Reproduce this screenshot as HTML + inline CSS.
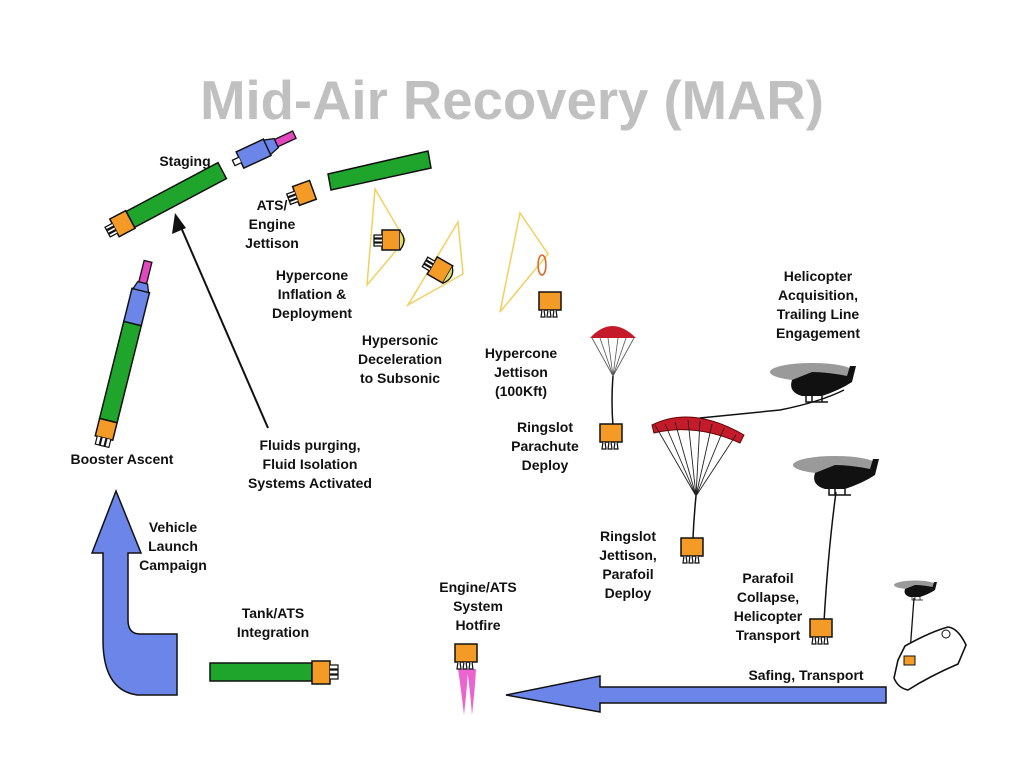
<!DOCTYPE html>
<html><head><meta charset="utf-8"><style>
html,body{margin:0;padding:0;background:#fff;}
svg{display:block;}
text{font-family:"Liberation Sans",Arial,sans-serif;font-weight:bold;font-size:14px;fill:#111;text-anchor:middle;}
</style></head><body>
<svg width="1024" height="768" viewBox="0 0 1024 768" xmlns="http://www.w3.org/2000/svg">
<defs>
<g id="eng">
<rect x="0" y="0" width="18" height="20" fill="#f49a26" stroke="#111" stroke-width="1.5"/>
<path d="M0 5 h-8 v3 h8 M0 9 h-8 v3 h8 M0 13 h-8 v3 h8" fill="#fff" stroke="#111" stroke-width="1.3"/>
</g>
<g id="engd">
<rect x="0" y="0" width="22" height="18" fill="#f49a26" stroke="#111" stroke-width="1.5"/>
<path d="M3 18 l-1 7 h4 l-1 -7 M9 18 l-1 7 h4 l-1 -7 M15 18 l-1 7 h4 l-1 -7" fill="#fff" stroke="#111" stroke-width="1.2"/>
</g>
<g id="heli">
<ellipse cx="0" cy="0" rx="42" ry="9" fill="#9a9a9a"/>
<path d="M-20 8 q-4 12 10 16 l20 0 q18 -6 30 -14 l4 -16 l-6 0 l-3 10 q-20 -4 -35 -4 z" fill="#111"/>
<path d="M-6 24 v6 h22 M0 24 v6 M10 24 v6" stroke="#111" stroke-width="1.5" fill="none"/>
</g>
</defs>

<text x="512" y="119" style="font-size:54.5px;fill:#c0c0c0">Mid-Air Recovery (MAR)</text>

<!-- staging booster -->
<g transform="translate(118,226) rotate(-28)">
<rect x="14" y="-9" width="104" height="18" fill="#1fa52c" stroke="#111" stroke-width="1.5"/>
<use href="#eng" x="-4" y="-10"/>
</g>
<!-- upper stage -->
<g transform="translate(240,160) rotate(-25)">
<rect x="0" y="-9" width="30" height="18" fill="#6b86e8" stroke="#111" stroke-width="1.5"/>
<path d="M30 -8 L40 -5 L40 5 L30 8 Z" fill="#6b86e8" stroke="#111" stroke-width="1.3"/>
<rect x="40" y="-4" width="20" height="8" fill="#e048c0" stroke="#111" stroke-width="1.3"/>
<path d="M0 -3 h-7 v6 h7" fill="#fff" stroke="#111" stroke-width="1.3"/>
</g>
<text x="185" y="166">Staging</text>
<!-- ATS engine jettison -->
<g transform="translate(296,196) rotate(-20)"><use href="#eng" x="0" y="-10"/></g>
<polygon points="328,174 428,151 431,168 331,190" fill="#1fa52c" stroke="#111" stroke-width="1.5"/>
<text x="272" y="210">ATS/</text><text x="272" y="229">Engine</text><text x="272" y="248">Jettison</text>

<!-- hypercones -->
<polygon points="375,189 405,240 367,285" fill="none" stroke="#f1d060" stroke-width="1.5"/>
<use href="#eng" x="382" y="230"/>
<path d="M400 231 q8 9 0 19" fill="#d8e070" stroke="#111" stroke-width="1.3"/>
<polygon points="458,222 463,274 408,305" fill="none" stroke="#f1d060" stroke-width="1.5"/>
<g transform="translate(440,270) rotate(30)"><use href="#eng" x="-9" y="-10"/><path d="M9 -9 q8 9 0 19" fill="#d8e070" stroke="#111" stroke-width="1.3"/></g>
<polygon points="520,213 548,254 500,312" fill="none" stroke="#f1d060" stroke-width="1.5"/>
<ellipse cx="542" cy="265" rx="4" ry="10" fill="none" stroke="#e06020" stroke-width="1.5"/>
<use href="#engd" x="539" y="292"/>
<text x="312" y="280">Hypercone</text><text x="312" y="299">Inflation &amp;</text><text x="312" y="318">Deployment</text>
<text x="400" y="345">Hypersonic</text><text x="400" y="364">Deceleration</text><text x="400" y="383">to Subsonic</text>
<text x="521" y="358">Hypercone</text><text x="521" y="377">Jettison</text><text x="521" y="396">(100Kft)</text>

<!-- ringslot parachute -->
<path d="M590 338 q22 -24 46 0 z" fill="#c41a2a"/>
<path d="M592 338 L613 376 M600 338 L613 376 M608 338 L613 376 M618 338 L613 376 M626 338 L613 376 M634 338 L613 376" stroke="#555" stroke-width="0.8"/>
<path d="M613 376 q-2 25 0 50" stroke="#111" stroke-width="1.5" fill="none"/>
<use href="#engd" x="600" y="424"/>
<text x="545" y="432">Ringslot</text><text x="545" y="451">Parachute</text><text x="545" y="470">Deploy</text>

<!-- parafoil -->
<path d="M652 425 q40 -20 92 10 l-4 8 q-45 -20 -86 -10 z" fill="#c41a2a" stroke="#600" stroke-width="1"/>
<path d="M655 425 L696 496 M665 424 L696 496 M675 422 L696 496 M688 420 L696 496 M700 421 L696 496 M712 424 L696 496 M724 428 L696 496 M736 435 L696 496" stroke="#222" stroke-width="0.9"/>
<path d="M696 496 q-2 20 -3 42" stroke="#111" stroke-width="1.5" fill="none"/>
<use href="#engd" x="681" y="538"/>
<path d="M700 418 q40 -4 80 -8 q40 -8 64 -20" stroke="#111" stroke-width="1.5" fill="none"/>
<text x="628" y="541">Ringslot</text><text x="628" y="560">Jettison,</text><text x="628" y="579">Parafoil</text><text x="628" y="598">Deploy</text>

<!-- helicopters -->
<use href="#heli" x="812" y="372"/>
<text x="818" y="281">Helicopter</text><text x="818" y="300">Acquisition,</text><text x="818" y="319">Trailing Line</text><text x="818" y="338">Engagement</text>
<use href="#heli" x="835" y="465"/>
<path d="M836 492 q-8 60 -12 130" stroke="#111" stroke-width="1.5" fill="none"/>
<use href="#engd" x="810" y="619"/>
<text x="768" y="583">Parafoil</text><text x="768" y="602">Collapse,</text><text x="768" y="621">Helicopter</text><text x="768" y="640">Transport</text>

<!-- boat -->
<g transform="translate(915,585) scale(0.5)"><use href="#heli" x="0" y="0"/></g>
<path d="M914 598 l-4 54" stroke="#111" stroke-width="1.3"/>
<path d="M898 660 L905 646 Q930 632 948 627 Q958 628 966 645 L958 664 Q930 676 908 690 Q898 688 894 678 Z" fill="#fff" stroke="#111" stroke-width="1.6"/>
<circle cx="946" cy="634" r="4" fill="none" stroke="#111" stroke-width="1"/>
<rect x="904" y="656" width="11" height="9" fill="#f49a26" stroke="#111"/>
<text x="806" y="680">Safing, Transport</text>

<!-- bottom arrow -->
<polygon points="886,687 886,703 600,703 600,712 506,695 600,676 600,687" fill="#6b86e8" stroke="#111" stroke-width="1.5"/>
<!-- hotfire -->
<path d="M458 669 q3 20 6 46 q3 -26 4 -46 z M467 669 q3 20 5 46 q3 -26 4 -46 z" fill="#e84ac8" opacity="0.85"/>
<use href="#engd" x="455" y="644"/>
<text x="478" y="592">Engine/ATS</text><text x="478" y="611">System</text><text x="478" y="630">Hotfire</text>

<!-- tank -->
<rect x="210" y="663" width="102" height="18" fill="#1fa52c" stroke="#111" stroke-width="1.5"/>
<rect x="312" y="661" width="18" height="23" fill="#f49a26" stroke="#111" stroke-width="1.5"/>
<path d="M330 665 h8 v4 h-8 M330 670 h8 v4 h-8 M330 675 h8 v4 h-8" fill="#fff" stroke="#111" stroke-width="1.2"/>
<text x="273" y="618">Tank/ATS</text><text x="273" y="637">Integration</text>

<!-- big up arrow -->
<path d="M116 491 L141 553 L128 553 L128 620 Q128 634 140 634 L177 634 L177 695 L137 695 Q103 690 103 640 L103 553 L92 553 Z" fill="#6b86e8" stroke="#111" stroke-width="1.5"/>
<text x="173" y="532">Vehicle</text><text x="173" y="551">Launch</text><text x="173" y="570">Campaign</text>

<!-- booster ascent -->
<g transform="translate(104,438) rotate(-76)">
<rect x="0" y="-9" width="18" height="18" fill="#f49a26" stroke="#111" stroke-width="1.5"/>
<path d="M0 -7 h-8 v4 h8 M0 -2 h-8 v4 h8 M0 3 h-8 v4 h8" fill="#fff" stroke="#111" stroke-width="1.2"/>
<rect x="18" y="-9" width="100" height="18" fill="#1fa52c" stroke="#111" stroke-width="1.5"/>
<rect x="118" y="-9" width="34" height="18" fill="#6b86e8" stroke="#111" stroke-width="1.5"/>
<path d="M152 -8 L160 -5 L160 5 L152 8 Z" fill="#6b86e8" stroke="#111" stroke-width="1.3"/>
<rect x="160" y="-4" width="22" height="8" fill="#e048c0" stroke="#111" stroke-width="1.3"/>
</g>
<text x="122" y="464">Booster Ascent</text>

<!-- black arrow -->
<line x1="268" y1="428" x2="180" y2="225" stroke="#111" stroke-width="2"/>
<polygon points="175,213 172,234 186,228" fill="#111"/>
<text x="310" y="450">Fluids purging,</text><text x="310" y="469">Fluid Isolation</text><text x="310" y="488">Systems Activated</text>
</svg>
</body></html>
